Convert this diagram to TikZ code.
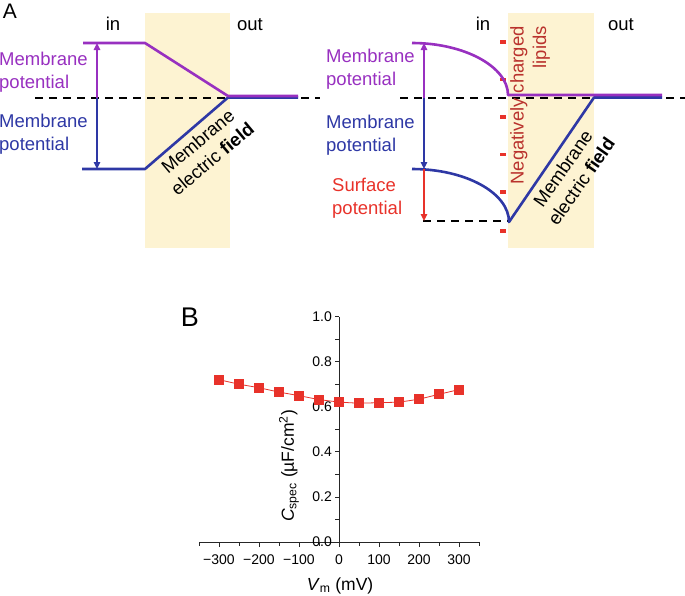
\documentclass[tikz,border=0pt]{standalone}
\usepackage{fontspec}
\setmainfont{Liberation Sans}
\usetikzlibrary{arrows.meta,plotmarks}
\definecolor{mpurple}{RGB}{152,48,192}
\definecolor{mblue}{RGB}{46,56,165}
\definecolor{mred}{RGB}{232,50,42}
\definecolor{mdred}{RGB}{185,50,45}
\definecolor{bandc}{RGB}{253,243,210}
\begin{document}
\begin{tikzpicture}[x=1pt,y=-1pt,
  lab/.style={font=\fontsize{18.5}{22.5}\selectfont, inner sep=0pt},
  panel/.style={font=\fontsize{21}{24}\selectfont, inner sep=0pt},
  curve/.style={line width=2.6pt, line join=round},
  dline/.style={line width=2.4pt, dash pattern=on 8pt off 6pt},
  varrow/.style={line width=1.4pt, -{Triangle[length=7pt,width=6.5pt]}},
  minus/.style={fill=mred},
  tick/.style={font=\fontsize{14}{16}\selectfont, inner sep=0pt},
  axis/.style={line width=0.8pt, black!85},
  datal/.style={mred, line width=0.8pt},
  ]
\useasboundingbox (0,0) rectangle (685,595);

% ================= Panel A, left =================
\fill[bandc] (145,13) rectangle (230,248);
\node[panel, anchor=base] (A) at (10,18.5) {A};
\node[lab, anchor=base] (inL) at (113,30) {in};
\node[lab, anchor=base] (outL) at (250,30) {out};
\coordinate (dLs) at (35,98);
\coordinate (dLe) at (320,98);
\draw[dline] (dLs) -- (dLe);

\coordinate (bL1) at (82,169);
\coordinate (bL2) at (145,169);
\coordinate (bL3) at (228,97.5);
\coordinate (bL4) at (298,97.5);
\coordinate (pL1) at (83,43);
\coordinate (pL2) at (145,43);
\coordinate (pL3) at (228,96);
\coordinate (pL4) at (298,96);
\draw[curve, mblue] (bL1) -- (bL2) -- (bL3) -- (bL4);
\draw[curve, mpurple] (pL1) -- (pL2) -- (pL3) -- (pL4);

\coordinate (aL0) at (97,98);
\coordinate (aLt) at (97,43);
\coordinate (aLb) at (97,169);
\draw[varrow, mpurple] (aL0) -- (aLt);
\draw[varrow, mblue] (aL0) -- (aLb);

\node[lab, mpurple, anchor=west, align=left] (mpL) at (-1,72) {Membrane\\potential};
\node[lab, mblue, anchor=west, align=left] (mbL) at (-1,134) {Membrane\\potential};
\node[lab, rotate=40, align=center] (efL) at (205,150) {Membrane\\electric \textbf{field}};

% ================= Panel A, right =================
\fill[bandc] (508,13) rectangle (594,248);
\foreach \yy [count=\i] in {42,79.5,117,154.5,192,231}
  \fill[minus] (500,\yy-1.6) rectangle (506,\yy+1.6);
\node[lab, anchor=base] (inR) at (483,30) {in};
\node[lab, anchor=base] (outR) at (621,30) {out};
\coordinate (dRs) at (400,98);
\coordinate (dRe) at (685,98);
\draw[dline] (dRs) -- (dRe);
\coordinate (sRs) at (423,221);
\coordinate (sRe) at (509,221);
\draw[dline] (sRs) -- (sRe);

\node[lab, mdred, rotate=90, align=right, anchor=north east] (neg) at (510,26) {Negatively charged\\lipids};

\coordinate (bR1) at (412,169);
\coordinate (bR2) at (509,222);
\coordinate (bR3) at (594,97.5);
\coordinate (bR4) at (662,97.5);
\coordinate (pR1) at (412,43);
\coordinate (pR2) at (508,95);
\coordinate (pR3) at (662,95);
\draw[curve, mblue] (bR1) .. controls (466,169) and (509,193) .. (bR2) -- (bR3) -- (bR4);
\draw[curve, mpurple] (pR1) .. controls (465,43) and (508,67) .. (pR2) -- (pR3);

\coordinate (aR0) at (424,98);
\coordinate (aRt) at (424,43);
\coordinate (aRm) at (424,169);
\coordinate (aRb) at (424,221);
\draw[varrow, mpurple] (aR0) -- (aRt);
\draw[varrow, mblue] (aR0) -- (aRm);
\draw[varrow, mred] (aRm) -- (aRb);

\node[lab, mpurple, anchor=west, align=left] (mpR) at (326,69) {Membrane\\potential};
\node[lab, mblue, anchor=west, align=left] (mbR) at (326,135) {Membrane\\potential};
\node[lab, mred, anchor=west, align=left] (spR) at (332,198) {Surface\\potential};
\node[lab, rotate=55, align=center] (efR) at (572,175) {Membrane\\electric \textbf{field}};

% ================= Panel B =================
\node[font=\fontsize{27}{30}\selectfont, inner sep=0pt] (B) at (190,317) {B};
\begin{scope}[xshift=339pt, yshift=-542pt, x=0.4pt, y=225.5pt]
  \draw[axis] (-350,0) -- (350,0);
  \draw[axis] (0,0) -- (0,1);
  \foreach \v in {-350,-250,...,350} \draw[axis] (\v,0) -- ++(0,-3.5pt);
  \foreach \v in {-300,-200,...,300} \draw[axis] (\v,0) -- ++(0,-5pt);
  \foreach \k in {0,1,...,10} \draw[axis] (0,\k/10) -- ++(-4pt,0);
  \foreach \v/\t [count=\i] in {-300/−300,-200/−200,-100/−100,0/0,100/100,200/200,300/300}
    \node[tick, anchor=base, yshift=-22pt] (xt\i) at (\v,0) {\t};
  \foreach \c/\t [count=\i] in {0/0.0,0.2/0.2,0.4/0.4,0.6/0.6,0.8/0.8,1/1.0}
    \node[tick, anchor=east, xshift=-7pt] (yt\i) at (0,\c) {\t};
  \draw[datal] plot[smooth, mark=square*, mark size=4.5pt, mark options={fill=mred, draw=none}]
    coordinates {(-300,0.72) (-250,0.70) (-200,0.684) (-150,0.665) (-100,0.649) (-50,0.632) (0,0.621) (50,0.616) (100,0.618) (150,0.621) (200,0.634) (250,0.655) (300,0.676)};
\end{scope}
\node[font=\fontsize{17.5}{20}\selectfont, inner sep=0pt, anchor=base] (xl) at (340,590) {\textit{V}\textsubscript{m} (mV)};
\node[font=\fontsize{17.5}{20}\selectfont, inner sep=0pt, rotate=90] (yl) at (289,466) {\textit{C}\textsubscript{spec} (µF/cm\textsuperscript{2})};
\end{tikzpicture}
\end{document}
